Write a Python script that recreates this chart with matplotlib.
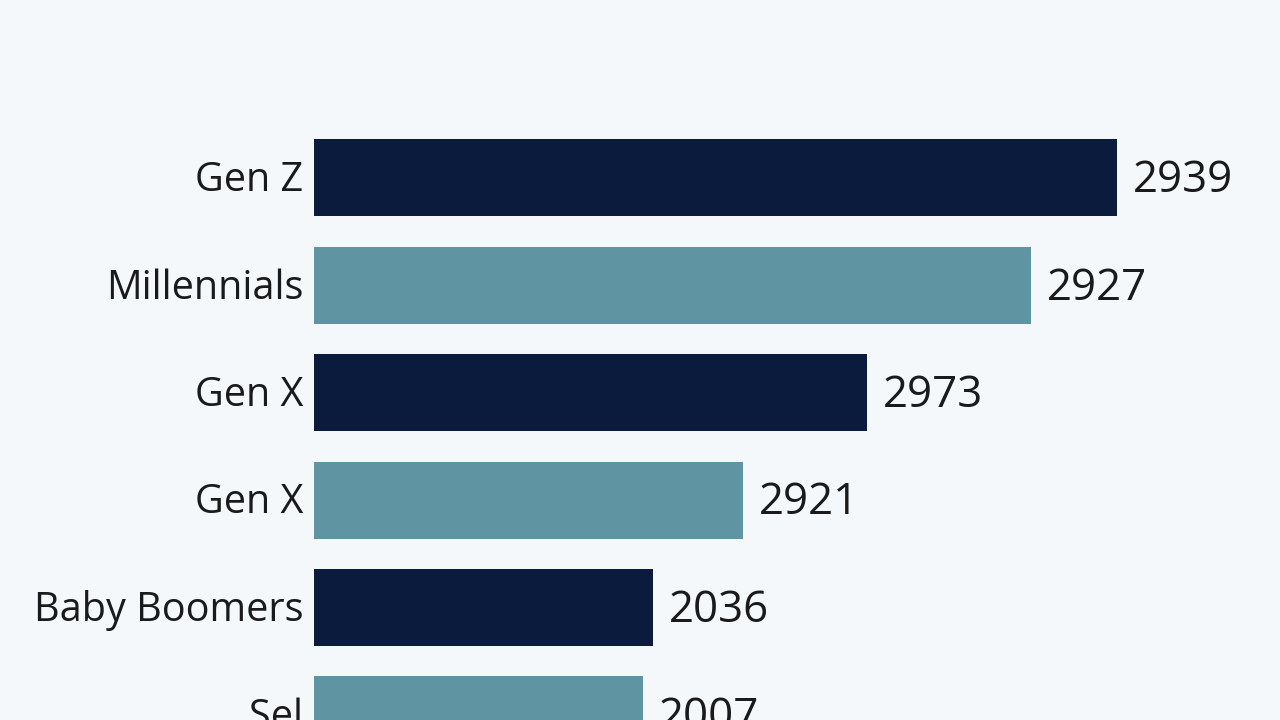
"""Horizontal bar chart of generation values, cropped view."""

import matplotlib
matplotlib.use("Agg")
import matplotlib.pyplot as plt

categories = ["Gen Z", "Millennials", "Gen X", "Gen X", "Baby Boomers", "Sel"]
bar_values = [100.0, 89.3, 68.9, 53.4, 42.2, 41.0]
value_labels = ["2939", "2927", "2973", "2921", "2036", "2007"]

NAVY = "#0b1b3d"
TEAL = "#5f95a3"
BG = "#f4f8fb"
TEXT = "#1a1a1a"

plt.rcParams["font.family"] = ["Open Sans", "DejaVu Sans"]

fig = plt.figure(figsize=(12.8, 7.2), dpi=100, facecolor=BG)
ax = fig.add_axes([314 / 1280, 0, 966 / 1280, 1])
ax.set_facecolor(BG)

colors = [NAVY if i % 2 == 0 else TEAL for i in range(len(categories))]
ypos = list(range(len(categories)))
ax.barh(ypos, bar_values, height=0.717, color=colors)

ax.set_xlim(0, 120.3)
ax.set_ylim(5.047, -1.657)

for y, cat, v, lab in zip(ypos, categories, bar_values, value_labels):
    ax.annotate(cat, (0, y), xytext=(-11, -3), textcoords="offset pixels",
                ha="right", va="center", fontsize=28.5, color=TEXT,
                annotation_clip=False)
    ax.annotate(lab, (v, y), xytext=(16, -3), textcoords="offset pixels",
                ha="left", va="center", fontsize=31.5, color=TEXT,
                annotation_clip=False)

ax.axis("off")
fig.savefig("out.png", dpi=100, facecolor=BG)
plt.close(fig)
